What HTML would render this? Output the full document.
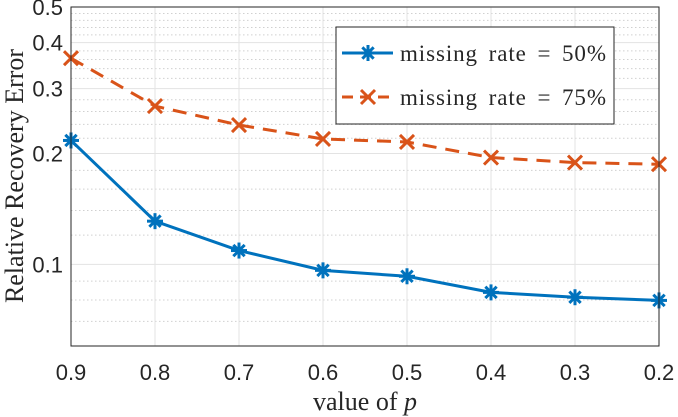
<!DOCTYPE html>
<html><head><meta charset="utf-8"><style>
html,body{margin:0;padding:0;background:#fff;}
svg{display:block;}
.tk{font-family:"Liberation Sans",sans-serif;font-size:22px;fill:#262626;}
.sf{font-family:"Liberation Serif",serif;fill:#262626;}
</style></head><body>
<svg id="chart" width="678" height="417" xmlns="http://www.w3.org/2000/svg">
<g id="grid"></g>
<g id="series"></g>
<g id="axes"></g>
<text class="sf" x="365" y="410" font-size="26" text-anchor="middle">value of <tspan font-style="italic">p</tspan></text>
<text class="sf" transform="translate(23,176) rotate(-90)" font-size="26" text-anchor="middle">Relative Recovery Error</text>
<g>
<rect x="336" y="27" width="278" height="97" fill="#fff" stroke="#262626" stroke-width="1"/>
<g>
<line x1="342" y1="53" x2="393" y2="53" stroke="#0072BD" stroke-width="3"/>
<g id="lm1"></g>
<text class="sf" x="400" y="61" font-size="23" fill="#000" textLength="206" lengthAdjust="spacing" word-spacing="4">missing rate = 50%</text></g>
<g>
<line x1="342" y1="97" x2="393" y2="97" stroke="#D95319" stroke-width="3" stroke-dasharray="11,7"/>
<g id="lm2"></g>
<text class="sf" x="400" y="105" font-size="23" fill="#000" textLength="206" lengthAdjust="spacing" word-spacing="4">missing rate = 75%</text></g>
</g>
</svg>
<script>
const categories=[0.9,0.8,0.7,0.6,0.5,0.4,0.3,0.2];
const xTickLabels=["0.9","0.8","0.7","0.6","0.5","0.4","0.3","0.2"];
const series50=[0.217,0.131,0.109,0.0963,0.0928,0.0839,0.0814,0.0798];
const series75=[0.363,0.269,0.239,0.219,0.215,0.195,0.189,0.187];
const yTicks=[0.1,0.2,0.3,0.4,0.5];
const yTickLabels=["0.1","0.2","0.3","0.4","0.5"];
const yMinor=[0.06,0.07,0.08,0.09,0.12,0.14,0.16,0.18,0.22,0.24,0.26,0.28,0.32,0.34,0.36,0.38,0.42,0.44,0.46,0.48];
const L=71,R=659,T=7,B=346,yMin=0.06,yMax=0.5;
const NS="http://www.w3.org/2000/svg";
function xs(v){return L+(0.9-v)/(0.9-0.2)*(R-L);}
function ys(v){return B-(Math.log(v/yMin)/Math.log(yMax/yMin))*(B-T);}
function mk(tag,a,p){const e=document.createElementNS(NS,tag);for(const k in a)e.setAttribute(k,a[k]);p.appendChild(e);return e;}
const grid=document.getElementById('grid'),axes=document.getElementById('axes'),ser=document.getElementById('series');
yMinor.forEach(v=>{const l=mk('line',{x1:L,x2:R,y1:ys(v),y2:ys(v),stroke:'#d0d0d0','stroke-width':1,'stroke-dasharray':'1.5,2.5'},grid);

});
yTicks.forEach((v,i)=>{const l=mk('line',{x1:L,x2:R,y1:ys(v),y2:ys(v),stroke:'#e3e3e3','stroke-width':1},grid);


const t=mk('text',{x:L-8,y:ys(v)+8,'text-anchor':'end',class:'tk'},axes);t.textContent=yTickLabels[i];

});
categories.forEach((c,i)=>{const l=mk('line',{x1:xs(c),x2:xs(c),y1:T,y2:B,stroke:'#e3e3e3','stroke-width':1},grid);


const t=mk('text',{x:xs(c),y:B+34,'text-anchor':'middle',class:'tk'},axes);t.textContent=xTickLabels[i];

});
const box=mk('rect',{x:L,y:T,width:R-L,height:B-T,fill:'none',stroke:'#262626','stroke-width':1},axes);


function star(x,y,p,c){const r=8;for(let a=0;a<180;a+=45){const rad=a*Math.PI/180;mk('line',{x1:x-r*Math.cos(rad),y1:y-r*Math.sin(rad),x2:x+r*Math.cos(rad),y2:y+r*Math.sin(rad),stroke:c,'stroke-width':3},p);}}
function cross(x,y,p,c){const r=7;mk('line',{x1:x-r,y1:y-r,x2:x+r,y2:y+r,stroke:c,'stroke-width':3},p);mk('line',{x1:x-r,y1:y+r,x2:x+r,y2:y-r,stroke:c,'stroke-width':3},p);}
function draw(vals,c,dash,m,name){const g=mk('g',{},ser);


const pts=vals.map((v,i)=>xs(categories[i])+','+ys(v)).join(' ');
const pl=mk('polyline',{points:pts,fill:'none',stroke:c,'stroke-width':3},g);if(dash)pl.setAttribute('stroke-dasharray',dash);
vals.forEach((v,i)=>{const mg=mk('g',{},g);


m(xs(categories[i]),ys(v),mg,c);});}
draw(series75,'#D95319','14,9',cross,'series-75');
draw(series50,'#0072BD',null,star,'series-50');
star(368,53,document.getElementById('lm1'),'#0072BD');
cross(368,97,document.getElementById('lm2'),'#D95319');
</script>
</body></html>
